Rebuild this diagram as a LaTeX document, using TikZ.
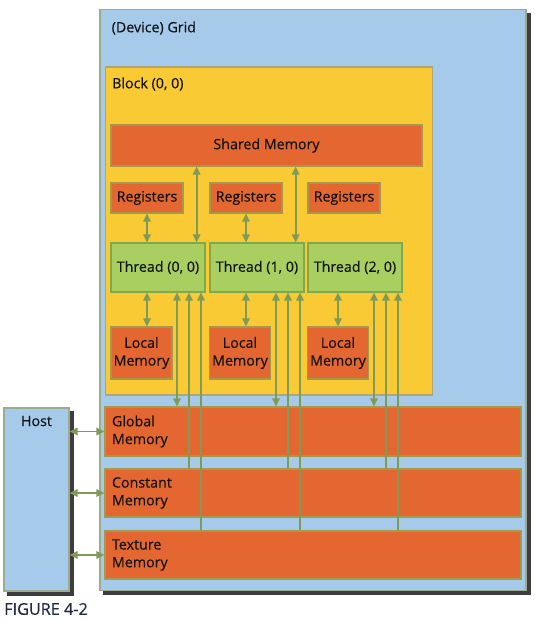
\documentclass[tikz,border=0pt]{standalone}
\usepackage{fontspec}
\setmainfont{Open Sans}[FakeBold=0.45]
\usetikzlibrary{arrows.meta,calc}
\definecolor{gridblue}{HTML}{A6CBEA}
\definecolor{gridline}{HTML}{9CAA90}
\definecolor{blockyellow}{HTML}{F9CA33}
\definecolor{blockline}{HTML}{B0A57A}
\definecolor{memorange}{HTML}{E46630}
\definecolor{memline}{HTML}{A39A4E}
\definecolor{thrgreen}{HTML}{A8CF60}
\definecolor{thrline}{HTML}{80A84C}
\definecolor{arrgreen}{HTML}{7E9B58}
\definecolor{shadowgray}{rgb}{0.24,0.24,0.24}
\definecolor{figtext}{HTML}{1E2A46}
\definecolor{txt}{HTML}{141414}
\pgfdeclarelayer{bg}
\pgfsetlayers{bg,main}
\begin{document}
\begin{tikzpicture}[x=1bp,y=-1bp,
  every node/.style={font=\fontsize{14.3}{17.8}\selectfont, text=txt, inner sep=0pt},
  gridbox/.style={draw=gridline, fill=gridblue, line width=1.2bp},
  blockbox/.style={draw=blockline, fill=blockyellow, line width=1.2bp},
  membox/.style={draw=memline, fill=memorange, line width=1.2bp},
  thrbox/.style={draw=thrline, fill=thrgreen, line width=1.2bp, minimum width=94bp, minimum height=49bp},
  regbox/.style={membox, minimum width=72bp, minimum height=30bp},
  locbox/.style={membox, align=center, minimum width=61bp, minimum height=52bp},
  bigmem/.style={membox, minimum width=416bp, minimum height=48bp, align=left, text width=402bp, inner xsep=7bp},
  conn/.style={draw=arrgreen, line width=1.8bp},
  darr/.style={conn, {Triangle[width=7.5bp,length=8bp]}-{Triangle[width=7.5bp,length=8bp]}},
  uarr/.style={conn, -{Triangle[width=7.5bp,length=8bp]}},
]
\begin{pgfonlayer}{bg}
\fill[white] (0,0) rectangle (535,622);
\end{pgfonlayer}
\useasboundingbox (0,0) rectangle (535,622);

% grid and host
\node[gridbox, minimum width=426bp, minimum height=581bp] (grid) at (313,300) {};
\node[anchor=west] (gridlbl) at (111.5,28) {(Device) Grid};
\node[gridbox, minimum width=65bp, minimum height=183bp] (host) at (36.5,499.5) {};
\node (hostlbl) at (36.5,421) {Host};

% drop shadows (behind the boxes)
\begin{pgfonlayer}{bg}
\fill[shadowgray] ($(grid.south west)+(4,4)$) rectangle ($(grid.north east)+(4,4)$);
\fill[shadowgray] ($(host.south west)+(4,4)$) rectangle ($(host.north east)+(4,4)$);
\end{pgfonlayer}

% block
\node[blockbox, minimum width=327bp, minimum height=328bp] (block) at (269,231) {};
\node[anchor=west] (blocklbl) at (112,84) {Block (0, 0)};
\node[membox, minimum width=311bp, minimum height=41bp] (shared) at (266.5,145.5) {Shared Memory};

\node[regbox] (reg0) at (147,198) {Registers};
\node[regbox] (reg1) at (246,198) {Registers};
\node[regbox] (reg2) at (344,198) {Registers};

\node[thrbox] (thr0) at (158,267.5) {Thread (0, 0)};
\node[thrbox] (thr1) at (257,267.5) {Thread (1, 0)};
\node[thrbox] (thr2) at (355,267.5) {Thread (2, 0)};

\node[locbox] (loc0) at (141.5,353) {Local\\Memory};
\node[locbox] (loc1) at (240,353) {Local\\Memory};
\node[locbox] (loc2) at (338,353) {Local\\Memory};

% device memories
\node[bigmem, minimum height=49bp] (glob) at (313,431.5) {Global\\Memory};
\node[bigmem] (const) at (313,493) {Constant\\Memory};
\node[bigmem] (tex) at (313,555) {Texture\\Memory};

\node[anchor=west, text=figtext, font=\fontsize{16.3}{19}\selectfont] (fig) at (4,609) {FIGURE 4-2};

% registers <-> threads
\draw[darr] (reg0.south) -- (reg0.south |- thr0.north);
\draw[darr] (reg1.south) -- (reg1.south |- thr1.north);
% shared <-> threads
\draw[darr] ($(thr0.north east |- shared.south)+(-9,0)$) -- ($(thr0.north east)+(-9,0)$);
\draw[darr] ($(thr1.north east |- shared.south)+(-9,0)$) -- ($(thr1.north east)+(-9,0)$);
% threads <-> local
\draw[darr] (thr0.south -| reg0.south) -- (loc0.north -| reg0.south);
\draw[darr] (thr1.south -| reg1.south) -- (loc1.north -| reg1.south);
\draw[darr] (loc2.north |- thr2.south) -- (loc2.north);

% threads <-> global / constant / texture
\foreach \t in {thr0,thr1,thr2}{
  \draw[darr] ($(\t.south)+(19,0)$) -- ($(\t.south |- glob.north)+(19,0)$);
  \draw[uarr] ($(\t.south |- const.north)+(31,0)$) -- ($(\t.south)+(31,0)$);
  \draw[uarr] ($(\t.south |- tex.north)+(43,0)$) -- ($(\t.south)+(43,0)$);
}

% host <-> memories
\draw[darr] (host.east |- glob.west) -- (glob.west);
\draw[darr] (host.east |- const.west) -- (const.west);
\draw[darr] (host.east |- tex.west) -- (tex.west);
\end{tikzpicture}
\end{document}
